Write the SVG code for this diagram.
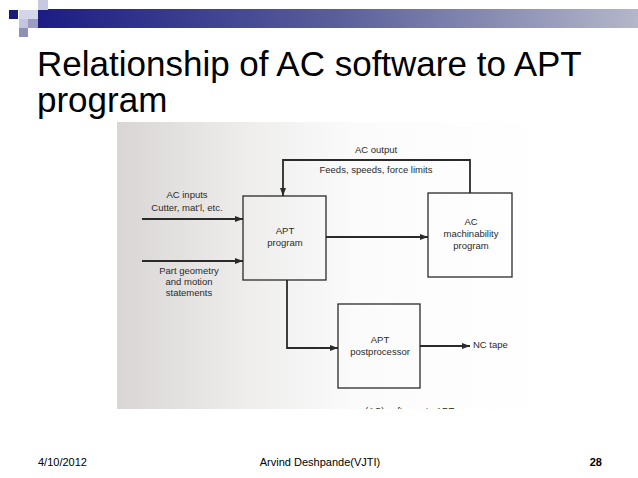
<svg xmlns="http://www.w3.org/2000/svg" width="638" height="478" viewBox="0 0 638 478">
<defs>
<linearGradient id="bar" x1="0" y1="0" x2="1" y2="0">
<stop offset="0" stop-color="#1c1c84"/>
<stop offset="0.5" stop-color="#5a5f9a"/>
<stop offset="1" stop-color="#b4b7c9"/>
</linearGradient>
<linearGradient id="scan" x1="0" y1="0" x2="1" y2="0">
<stop offset="0" stop-color="#d9d5d5"/>
<stop offset="0.3" stop-color="#eeedec"/>
<stop offset="0.55" stop-color="#fbfbfb"/>
<stop offset="1" stop-color="#ffffff"/>
</linearGradient>
<marker id="ah" markerWidth="8" markerHeight="6" refX="8" refY="3" orient="auto" markerUnits="userSpaceOnUse">
<path d="M0,0 L8,3 L0,6 Z" fill="#2a2a2a"/>
</marker>
<clipPath id="scanclip"><rect x="117" y="122" width="430" height="287"/></clipPath>
<style>
.t{font-family:"Liberation Sans",Arial,sans-serif;fill:#2a2a2a;font-size:9.5px}
.box{fill:none;stroke:#2a2a2a;stroke-width:1.3}
.ln{fill:none;stroke:#2a2a2a;stroke-width:1.8}
.title{font-family:"Liberation Sans",Arial,sans-serif;font-size:35px;fill:#000}
.foot{font-family:"Liberation Sans",Arial,sans-serif;font-size:11px;fill:#000}
</style>
</defs>
<rect width="638" height="478" fill="#fff"/>
<g id="header">
<rect x="38" y="9" width="600" height="19" fill="url(#bar)"/>
<rect x="38" y="0" width="10" height="10" fill="#c8c8e0"/>
<rect x="19" y="10" width="19" height="10" fill="#d4d4ea"/>
<rect x="19" y="19" width="9" height="9" fill="#c4c6df"/>
<rect x="28" y="19" width="10" height="9" fill="#9a9cc6"/>
<rect x="19" y="28" width="9" height="9" fill="#8e90b8"/>
<rect x="9" y="10" width="9" height="9" fill="#1a1a7a"/>
</g>
<g id="title">
<text class="title" x="37" y="76">Relationship of AC software to APT</text>
<text class="title" x="37" y="112">program</text>
</g>
<rect x="117" y="122" width="430" height="287" fill="url(#scan)"/>
<g id="caption" clip-path="url(#scanclip)">
<text class="t" x="365" y="414" font-size="12">(AC) software to APT program</text>
</g>
<g id="connectors">
<path class="ln" d="M470,193 V160 H283 V196" marker-end="url(#ah)"/>
<path class="ln" d="M326,237 H428" marker-end="url(#ah)"/>
<path class="ln" d="M142,219 H243" marker-end="url(#ah)"/>
<path class="ln" d="M142,261 H243" marker-end="url(#ah)"/>
<path class="ln" d="M287,280 V348 H338" marker-end="url(#ah)"/>
<path class="ln" d="M420,346 H470" marker-end="url(#ah)"/>
</g>
<g id="labels">
<text class="t" x="376" y="153" text-anchor="middle">AC output</text>
<text class="t" x="376" y="173" text-anchor="middle">Feeds, speeds, force limits</text>
<text class="t" x="187" y="198" text-anchor="middle">AC inputs</text>
<text class="t" x="187" y="211" text-anchor="middle" font-size="9">Cutter, mat’l, etc.</text>
<text class="t" x="189" y="274" text-anchor="middle">Part geometry</text>
<text class="t" x="189" y="285" text-anchor="middle">and motion</text>
<text class="t" x="189" y="296" text-anchor="middle">statements</text>
<text class="t" x="473" y="348">NC tape</text>
</g>
<g id="apt-program">
<rect class="box" x="243" y="196" width="83" height="84"/>
<text class="t" x="285" y="234" text-anchor="middle">APT</text>
<text class="t" x="285" y="246" text-anchor="middle">program</text>
</g>
<g id="ac-machinability">
<rect class="box" x="428" y="193" width="84" height="84"/>
<text class="t" x="471" y="225" text-anchor="middle">AC</text>
<text class="t" x="471" y="237" text-anchor="middle">machinability</text>
<text class="t" x="471" y="249" text-anchor="middle">program</text>
</g>
<g id="apt-postprocessor">
<rect class="box" x="338" y="304" width="82" height="84"/>
<text class="t" x="380" y="343" text-anchor="middle">APT</text>
<text class="t" x="380" y="355" text-anchor="middle">postprocessor</text>
</g>
<g id="footer">
<text class="foot" x="38" y="466">4/10/2012</text>
<text class="foot" x="320" y="466" text-anchor="middle">Arvind Deshpande(VJTI)</text>
<text class="foot" x="602" y="466" text-anchor="end" font-weight="bold">28</text>
</g>
</svg>
